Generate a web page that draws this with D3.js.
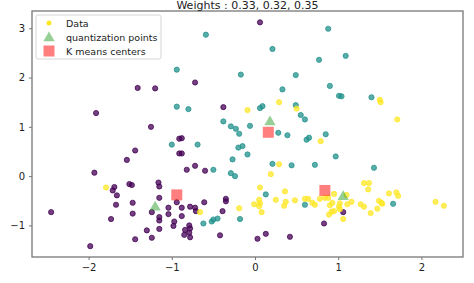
<!DOCTYPE html>
<html>
<head>
<meta charset="UTF-8">
<style>
body { margin: 0; background: #fff; }
text { font-family: "DejaVu Sans", sans-serif; fill: #222; }
</style>
</head>
<body>
<svg id="chart" width="474" height="283"></svg>
<script src="https://d3js.org/d3.v7.min.js"></script>
<script>
// cluster 0 (purple)
var purpleX = [0.06,-0.72,-0.38,-0.88,-0.88,-1.41,-1.20,-1.91,-1.25,-0.91,-0.91,-1.44,-1.54,-1.93,-0.82,-0.72,-0.60,
  -1.69,-1.51,-1.48,-1.16,-1.15,-1.71,-1.66,-1.15,-0.94,-0.61,-0.35,-0.35,-1.67,-1.47,-1.04,-0.88,-0.78,-0.72,-0.71,
  -0.39,-2.45,-1.24,-1.47,-1.04,-0.88,-1.15,-1.15,-1.73,-0.97,-0.98,-0.79,-0.78,-0.84,-0.79,-0.85,-0.78,-1.15,-1.30,
  -1.24,-1.44,-0.42,-1.98,0.03,0.13,0.42,1.06,0.83];
var purpleY = [3.12,1.90,1.40,0.77,0.46,1.79,1.78,1.28,1.00,0.76,0.46,0.52,0.33,0.07,0.13,0.21,0.11,
  -0.22,-0.16,-0.18,-0.13,-0.21,-0.29,-0.39,-0.44,-0.53,-0.53,-0.46,-0.51,-0.58,-0.54,-0.64,-0.64,-0.62,-0.64,-0.71,
  -0.71,-0.73,-0.73,-0.76,-0.77,-0.81,-0.83,-0.90,-0.87,-0.92,-1.01,-1.00,-1.06,-1.09,-1.15,-1.19,-1.24,-1.07,-1.10,
  -1.25,-1.28,-1.20,-1.42,-1.27,-1.17,-1.23,-0.73,-0.96];
// cluster 1 (teal)
var tealX = [0.88,-0.59,0.21,1.09,0.77,-0.17,0.49,0.90,0.33,1.01,0.49,-0.80,0.06,0.09,0.55,0.60,-0.38,-0.29,-0.23,
  -0.19,-0.06,0.28,0.39,0.85,0.65,0.62,-0.69,-0.15,-0.20,-0.09,0.97,-0.27,1.04,1.40,-0.94,-0.94,-1.00,-0.50,-0.29,
  -0.24,0.21,0.44,0.72,1.43,0.13,0.60,1.66,-0.62,-0.52,-0.50,-0.45,-0.18];
var tealY = [2.99,2.87,2.58,2.44,2.36,2.06,2.05,1.83,1.76,1.63,1.44,1.36,1.38,1.42,1.24,1.15,1.11,1.01,0.96,
  0.86,1.02,0.88,0.83,0.85,0.78,0.74,0.64,0.61,0.58,0.44,0.40,0.34,1.62,1.60,2.16,1.41,0.64,0.13,0.06,
  0.00,0.25,0.22,0.23,0.17,-0.37,-0.58,-0.56,-0.96,-0.92,-0.88,-0.86,-0.87];
// cluster 2 (yellow)
var yellowX = [0.29,-0.09,0.50,0.79,1.50,1.51,1.71,-1.79,-0.66,0.29,0.19,0.06,1.31,1.37,1.36,0.36,0.95,1.10,1.61,
  1.70,1.72,0.25,0.48,0.60,0.64,0.78,0.84,0.88,0.05,0.06,0.05,-0.01,0.37,0.35,0.69,0.72,0.93,0.90,1.02,1.01,1.02,
  1.11,1.16,1.27,1.31,1.49,1.52,1.53,1.47,2.17,2.27,-0.19,0.08,0.92,0.89,0.95,1.39,1.06];
var yellowY = [1.50,1.34,1.37,0.71,1.55,1.50,1.15,-0.23,-0.73,0.24,0.04,-0.23,-0.14,-0.14,-0.27,-0.31,-0.36,-0.38,-0.35,
  -0.33,-0.40,-0.48,-0.49,-0.46,-0.46,-0.46,-0.44,-0.44,-0.48,-0.55,-0.61,-0.57,-0.52,-0.60,-0.54,-0.58,-0.54,-0.59,-0.55,-0.62,-0.67,
  -0.57,-0.52,-0.57,-0.62,-0.50,-0.54,-0.56,-0.66,-0.52,-0.60,-0.65,-0.73,-0.72,-0.78,-0.71,-0.75,-0.87];
// quantization points and k-means centers
var quantX = [-1.20, 0.18, 1.06];
var quantY = [-0.61, 1.12, -0.40];
var centerX = [-0.94, 0.16, 0.84];
var centerY = [-0.38, 0.89, -0.29];
var weights = ["0.33", "0.32", "0.35"];
var xTicks = [-2, -1, 0, 1, 2];
var yTicks = [-1, 0, 1, 2, 3];

var margin = {top: 11, right: 11, bottom: 26, left: 32},
    width = 474 - margin.left - margin.right,
    height = 283 - margin.top - margin.bottom;

var svg = d3.select("#chart");
var g = svg.append("g")
    .attr("transform", "translate(" + margin.left + "," + margin.top + ")");

var x = d3.scaleLinear().domain([-2.68, 2.50]).range([0, width]);
var y = d3.scaleLinear().domain([-1.64, 3.35]).range([height, 0]);

// axes
var xAxis = g.append("g")
    .attr("transform", "translate(0," + height + ")")
    .call(d3.axisBottom(x).tickValues(xTicks).tickSize(3).tickPadding(4)
      .tickFormat(function(d) { return d < 0 ? "\u2212" + Math.abs(d) : d; }));
var yAxis = g.append("g")
    .call(d3.axisLeft(y).tickValues(yTicks).tickSize(3).tickPadding(4)
      .tickFormat(function(d) { return d < 0 ? "\u2212" + Math.abs(d) : d; }));
[xAxis, yAxis].forEach(function(a) {
  a.select(".domain").remove();
  a.selectAll("line").attr("stroke", "#777");
  a.selectAll("text").style("font-size", "10px").style("font-family", "DejaVu Sans, sans-serif").attr("fill", "#222");
});

// data points: face and edge share the colour, alpha makes the darker ring
function cluster(xs, ys, color) {
  var pts = xs.map(function(v, i) { return [v, ys[i]]; });
  g.append("g").selectAll("circle")
    .data(pts)
    .enter().append("circle")
      .attr("cx", function(d) { return x(d[0]); })
      .attr("cy", function(d) { return y(d[1]); })
      .attr("r", 2.6)
      .attr("fill", color)
      .attr("fill-opacity", 0.75)
      .attr("stroke", color)
      .attr("stroke-opacity", 0.75)
      .attr("stroke-width", 1);
}
cluster(purpleX, purpleY, "#440154");
cluster(tealX, tealY, "#21918c");
cluster(yellowX, yellowY, "#fde725");

// quantization points (triangles)
g.append("g").selectAll("path")
  .data(quantX.map(function(v, i) { return [v, quantY[i]]; }))
  .enter().append("path")
    .attr("d", d3.symbol().type(d3.symbolTriangle).size(55))
    .attr("transform", function(d) { return "translate(" + x(d[0]) + "," + (y(d[1]) + 1) + ")"; })
    .attr("fill", "#2ca02c")
    .attr("fill-opacity", 0.5);

// k-means centers (squares)
g.append("g").selectAll("rect")
  .data(centerX.map(function(v, i) { return [v, centerY[i]]; }))
  .enter().append("rect")
    .attr("x", function(d) { return x(d[0]) - 5.5; })
    .attr("y", function(d) { return y(d[1]) - 5.5; })
    .attr("width", 11)
    .attr("height", 11)
    .attr("fill", "#ff0000")
    .attr("fill-opacity", 0.5);

// frame
g.append("rect")
  .attr("width", width).attr("height", height)
  .attr("fill", "none").attr("stroke", "#777").attr("stroke-width", 1.3);

// title
svg.append("text")
  .attr("x", margin.left + width / 2)
  .attr("y", 8.5)
  .attr("text-anchor", "middle")
  .style("font-size", "11px")
  .text("Weights : " + weights.join(", "));

// legend
var legend = g.append("g").attr("transform", "translate(4,4)");
legend.append("rect")
  .attr("width", 125).attr("height", 44).attr("rx", 2)
  .attr("fill", "#fff").attr("fill-opacity", 0.8)
  .attr("stroke", "#ccc").attr("stroke-width", 0.8);
legend.append("circle").attr("cx", 13).attr("cy", 8).attr("r", 2.5)
  .attr("fill", "#fde725");
legend.append("path").attr("d", d3.symbol().type(d3.symbolTriangle).size(55))
  .attr("transform", "translate(13,23)").attr("fill", "#2ca02c").attr("fill-opacity", 0.5);
legend.append("rect").attr("x", 7.5).attr("y", 30.5).attr("width", 11).attr("height", 11)
  .attr("fill", "#ff0000").attr("fill-opacity", 0.5);
var labels = ["Data", "quantization points", "K means centers"];
legend.selectAll("text.lab").data(labels).enter().append("text")
  .attr("class", "lab")
  .attr("x", 30)
  .attr("y", function(d, i) { return 11.5 + i * 14; })
  .style("font-size", "9.5px")
  .text(function(d) { return d; });
</script>
</body>
</html>
